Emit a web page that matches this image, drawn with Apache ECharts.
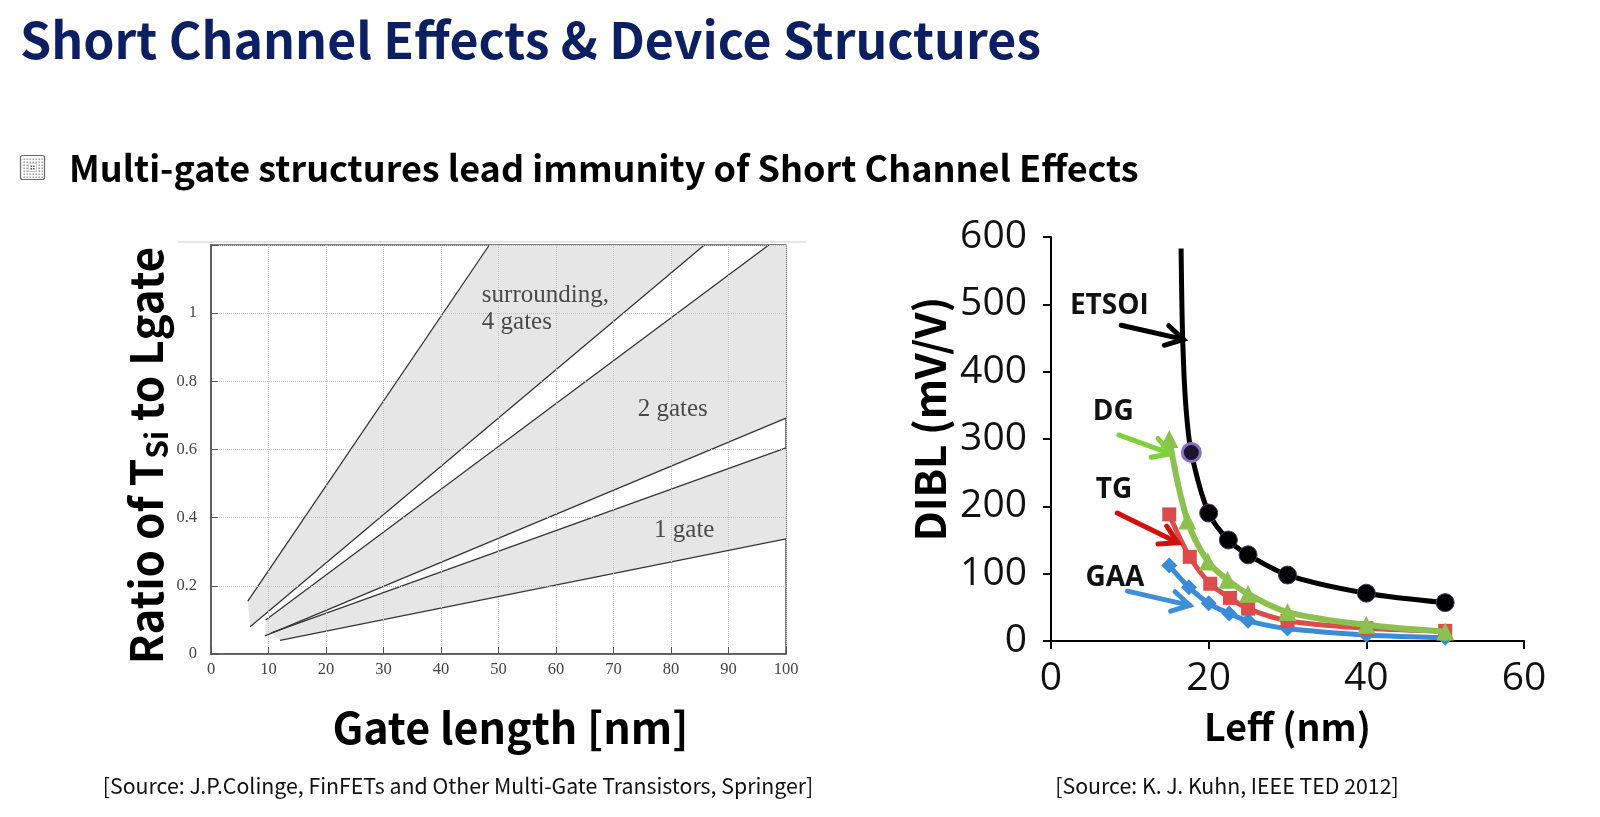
<!DOCTYPE html>
<html><head><meta charset="utf-8">
<script src="https://cdn.jsdelivr.net/npm/echarts@6/dist/echarts.min.js"></script>
<style>html,body{margin:0;padding:0;background:#fff}#c{width:1600px;height:817px}</style>
</head><body><div id="c"></div>
<script>
// ---------- texts ----------
const titleText = 'Short Channel Effects & Device Structures';
const subtitleText = 'Multi-gate structures lead immunity of Short Channel Effects';
const leftSource = '[Source: J.P.Colinge, FinFETs and Other Multi-Gate Transistors, Springer]';
const rightSource = '[Source: K. J. Kuhn, IEEE TED 2012]';

// ---------- left chart (ratio of TSi to Lgate vs gate length) ----------
const surroundUpper = [[6.4, 0.155], [48.4, 1.2]];
const surroundLower = [[6.8, 0.08], [85.8, 1.2]];
const twoGateUpper  = [[9.5, 0.10], [97, 1.2]];
const twoGateLower  = [[9.4, 0.053], [100, 0.692]];
const oneGateUpper  = [[10.5, 0.062], [100, 0.605]];
const oneGateLower  = [[12.0, 0.040], [100, 0.338]];
const twoGateCorner = [[100, 1.2]];
const regionLabels = ['surrounding,\n4 gates', '2 gates', '1 gate'];
const regionLabelX = [47.1, 80.3, 82.3];
const regionLabelY = [1.012, 0.719, 0.362];

// ---------- right chart (DIBL vs Leff) ----------
const etsoiX = [16.5, 16.7, 17.1, 17.8, 20, 22.5, 25, 30, 40, 50];
const etsoiY = [583, 450, 350, 280, 190, 150, 128, 98, 71, 57];
const dgX = [15, 17.3, 19.9, 22.4, 25, 30, 40, 50];
const dgY = [300, 179, 118, 91, 70, 43, 24, 14];
const tgX = [15, 17.6, 20.2, 22.7, 25, 30, 40, 50];
const tgY = [188, 125, 85, 64, 48, 30, 19, 15];
const gaaX = [15, 17.5, 20, 22.6, 25, 30, 40, 50];
const gaaY = [112, 80, 56, 41, 30, 18.5, 9, 5];

const annoNames = ['ETSOI', 'DG', 'TG', 'GAA'];
const annoLabelX = [7.4, 7.9, 8.0, 8.1];
const annoLabelY = [498, 340, 224, 93];
const arrowFrom = [[8.9, 469], [8.6, 306], [8.4, 190], [9.7, 74]];
const arrowTo   = [[16.8, 448], [15.2, 278], [16.1, 146], [17.6, 53]];
const arrowColors = ['#000000', '#7ed13c', '#d10f0f', '#3f8fd8'];

// ---------- styling ----------
const FONT_UI = '"Noto Sans CJK KR","Noto Sans",sans-serif';
const FONT_SERIF = '"Liberation Serif","DejaVu Serif",serif';
const FONT_PLOT = '"Open Sans","Noto Sans",sans-serif';

const chart = echarts.init(document.getElementById('c'), null, {renderer: 'canvas'});

const polys = [
  surroundUpper.concat(surroundLower.slice().reverse()),
  twoGateUpper.concat(twoGateCorner, twoGateLower.slice().reverse()),
  oneGateUpper.concat(oneGateLower.slice().reverse())
];
const boundaryLines = [surroundUpper, surroundLower, twoGateUpper, twoGateLower, oneGateUpper, oneGateLower];

function pairs(xs, ys) { return xs.map((x, i) => [x, ys[i]]); }

// static graphics
const staticEls = [];
staticEls.push({type: 'text', x: 20, y: 40, style: {text: titleText, font: 'bold 50px ' + FONT_UI, fill: '#0c1f63', textVerticalAlign: 'middle'}});
staticEls.push({type: 'text', x: 69, y: 168, style: {text: subtitleText, font: 'bold 36px ' + FONT_UI, fill: '#000', textVerticalAlign: 'middle'}});
// bullet icon
staticEls.push({type: 'rect', shape: {x: 20.5, y: 155.5, width: 24, height: 24, r: 2}, style: {fill: '#fbfbfb', stroke: '#6a6a6a', lineWidth: 1.2}});
for (let i = 0; i < 7; i++) for (let j = 0; j < 7; j++) {
  staticEls.push({type: 'rect', shape: {x: 23.5 + i * 3, y: 158.5 + j * 3, width: 1.4, height: 1.4}, style: {fill: '#9a9a9a'}});
}
staticEls.push({type: 'rect', shape: {x: 28.5, y: 163.5, width: 8, height: 8}, style: {fill: '#fff', stroke: '#bbb', lineWidth: 0.6}});
staticEls.push({type: 'rect', shape: {x: 30.5, y: 165.5, width: 1.6, height: 1.6}, style: {fill: '#555'}});
staticEls.push({type: 'rect', shape: {x: 33, y: 165.5, width: 1.6, height: 1.6}, style: {fill: '#555'}});
staticEls.push({type: 'rect', shape: {x: 30.5, y: 168, width: 1.6, height: 1.6}, style: {fill: '#555'}});
staticEls.push({type: 'rect', shape: {x: 33, y: 168, width: 1.6, height: 1.6}, style: {fill: '#555'}});
// faint frame line above the left plot
staticEls.push({type: 'line', shape: {x1: 178, y1: 242, x2: 806, y2: 242}, style: {stroke: '#dcdcdc', lineWidth: 1.5}});
// sources
staticEls.push({type: 'text', x: 458, y: 786, style: {text: leftSource, font: '21.3px ' + FONT_UI, fill: '#111', textAlign: 'center', textVerticalAlign: 'middle'}});
staticEls.push({type: 'text', x: 1227, y: 786, style: {text: rightSource, font: '21.3px ' + FONT_UI, fill: '#111', textAlign: 'center', textVerticalAlign: 'middle'}});

const leftAxisCommon = {
  axisLine: {show: true, lineStyle: {color: '#555', width: 1.5}},
  axisTick: {show: true, inside: true, length: 7, lineStyle: {color: '#555', width: 1}},
  splitLine: {show: true, lineStyle: {color: '#c2c2c2', type: 'dotted', width: 1}},
  z: 5
};

const option = {
  animation: false,
  backgroundColor: '#ffffff',
  grid: [
    {left: 211, top: 245, width: 575, height: 409, show: true, borderColor: '#555', borderWidth: 1.5, backgroundColor: 'transparent', outerBoundsMode: 'none', containLabel: false},
    {left: 1051, top: 237, width: 473, height: 404, outerBoundsMode: 'none', containLabel: false}
  ],
  xAxis: [
    Object.assign({}, leftAxisCommon, {
      gridIndex: 0, type: 'value', min: 0, max: 100, interval: 10,
      name: 'Gate length [nm]', nameLocation: 'middle', nameGap: 52, nameMoveOverlap: false,
      nameTextStyle: {fontFamily: FONT_UI, fontSize: 43, fontWeight: 'bold', color: '#000', padding: [0, 0, 0, 24]},
      axisLabel: {fontFamily: FONT_SERIF, fontSize: 16.5, color: '#444', margin: 7}
    }),
    {
      gridIndex: 1, type: 'value', min: 0, max: 60, interval: 20,
      name: 'Leff (nm)', nameLocation: 'middle', nameGap: 67, nameMoveOverlap: false,
      nameTextStyle: {fontFamily: FONT_UI, fontSize: 37.5, fontWeight: 'bold', color: '#000'},
      axisLine: {show: true, onZero: false, lineStyle: {color: '#000', width: 2}},
      axisTick: {show: true, length: 8, lineStyle: {color: '#000', width: 2}},
      axisLabel: {fontFamily: FONT_PLOT, fontSize: 39, color: '#111', margin: 18},
      splitLine: {show: false}
    }
  ],
  yAxis: [
    Object.assign({}, leftAxisCommon, {
      gridIndex: 0, type: 'value', min: 0, max: 1.2, interval: 0.2,
      name: 'Ratio of T{sub|Si} to Lgate', nameLocation: 'middle', nameRotate: 90, nameGap: 39, nameMoveOverlap: false,
      nameTextStyle: {
        fontFamily: FONT_UI, fontSize: 44, fontWeight: 'bold', color: '#000', padding: [0, 12, 0, 0],
        rich: {sub: {fontFamily: FONT_UI, fontSize: 30, fontWeight: 'bold', color: '#000', verticalAlign: 'bottom', padding: [22, 0, 0, 0]}}
      },
      axisLabel: {fontFamily: FONT_SERIF, fontSize: 16.5, color: '#444', margin: 14,
        formatter: v => (v > 1.1 ? '' : String(Math.round(v * 10) / 10))}
    }),
    {
      gridIndex: 1, type: 'value', min: 0, max: 600, interval: 100,
      name: 'DIBL (mV/V)', nameLocation: 'middle', nameRotate: 90, nameGap: 100, nameMoveOverlap: false,
      nameTextStyle: {fontFamily: FONT_UI, fontSize: 42, fontWeight: 'bold', color: '#000', padding: [0, 0, 0, 40]},
      axisLine: {show: true, onZero: false, lineStyle: {color: '#000', width: 2}},
      axisTick: {show: true, length: 8, lineStyle: {color: '#000', width: 2}},
      axisLabel: {fontFamily: FONT_PLOT, fontSize: 39, color: '#111', margin: 24},
      splitLine: {show: false}
    }
  ],
  series: [
    {
      type: 'custom', xAxisIndex: 0, yAxisIndex: 0, silent: true, z: 1, clip: true,
      data: polys.map(p => [p[0][0], p[0][1]]),
      renderItem: (params, api) => ({
        type: 'polygon',
        shape: {points: polys[params.dataIndex].map(pt => api.coord(pt))},
        style: {fill: '#e6e6e6', stroke: null}
      })
    },
    ...boundaryLines.map(l => ({
      type: 'line', xAxisIndex: 0, yAxisIndex: 0, data: l, symbol: 'none', silent: true, z: 3,
      lineStyle: {color: '#353535', width: 1.3}
    })),
    {
      type: 'scatter', xAxisIndex: 0, yAxisIndex: 0, symbolSize: 0, silent: true, z: 6,
      data: regionLabels.map((t, i) => ({
        name: t, value: [regionLabelX[i], regionLabelY[i]],
        label: {show: true, position: 'inside', align: i === 0 ? 'left' : 'center'}
      })),
      label: {show: true, formatter: '{b}', fontFamily: FONT_SERIF, fontSize: 25, color: '#222', lineHeight: 27}
    },
    {
      name: 'GAA', type: 'line', xAxisIndex: 1, yAxisIndex: 1, data: pairs(gaaX, gaaY),
      smooth: 0.35, symbol: 'diamond', symbolSize: 16, z: 3,
      lineStyle: {color: '#3a8bd8', width: 5}, itemStyle: {color: '#3a8bd8'}
    },
    {
      name: 'TG', type: 'line', xAxisIndex: 1, yAxisIndex: 1, data: pairs(tgX, tgY),
      smooth: 0.35, symbol: 'rect', symbolSize: 14, z: 4,
      lineStyle: {color: '#dd4b4b', width: 5}, itemStyle: {color: '#dd4b4b'}
    },
    {
      name: 'DG', type: 'line', xAxisIndex: 1, yAxisIndex: 1, data: pairs(dgX, dgY),
      smooth: 0.35, symbol: 'triangle', symbolSize: 18, z: 5,
      lineStyle: {color: '#8cc150', width: 6}, itemStyle: {color: '#8cc150'}
    },
    {
      name: 'ETSOI', type: 'line', xAxisIndex: 1, yAxisIndex: 1,
      data: etsoiX.map((x, i) => ({
        value: [x, etsoiY[i]],
        symbol: i < 3 ? 'none' : 'circle',
        itemStyle: i === 3 ? {color: '#1d1530', borderColor: '#8b6fc4', borderWidth: 3}
                           : {color: '#000', borderColor: '#4a3a6a', borderWidth: 1}
      })),
      smooth: 0.3, symbolSize: 18, z: 6,
      lineStyle: {color: '#000', width: 5}, itemStyle: {color: '#000'}
    }
  ],
  graphic: {elements: staticEls}
};

chart.setOption(option);

// annotations (arrows + labels) placed through the right chart's scales
const dyn = [];
function toPx(p) { return chart.convertToPixel({gridIndex: 1}, p); }
annoNames.forEach((name, i) => {
  const lp = toPx([annoLabelX[i], annoLabelY[i]]);
  dyn.push({type: 'text', x: lp[0], y: lp[1], z: 20,
    style: {text: name, font: 'bold 28px ' + FONT_PLOT, fill: '#111', textAlign: 'center', textVerticalAlign: 'middle'}});
  const s = toPx(arrowFrom[i]), t = toPx(arrowTo[i]);
  const dx = t[0] - s[0], dy = t[1] - s[1], len = Math.hypot(dx, dy);
  const ux = dx / len, uy = dy / len, L = 20, a = Math.PI / 6;
  const rot = (ang) => [ux * Math.cos(ang) - uy * Math.sin(ang), ux * Math.sin(ang) + uy * Math.cos(ang)];
  const r1 = rot(a), r2 = rot(-a);
  dyn.push({type: 'line', z: 20, shape: {x1: s[0], y1: s[1], x2: t[0], y2: t[1]},
    style: {stroke: arrowColors[i], lineWidth: 5, lineCap: 'round'}});
  dyn.push({type: 'polyline', z: 20, shape: {points: [[t[0] - L * r1[0], t[1] - L * r1[1]], t, [t[0] - L * r2[0], t[1] - L * r2[1]]]},
    style: {stroke: arrowColors[i], lineWidth: 5, fill: null, lineJoin: 'miter', lineCap: 'round'}});
});
chart.setOption({graphic: {elements: staticEls.concat(dyn)}});
</script>
</body></html>
